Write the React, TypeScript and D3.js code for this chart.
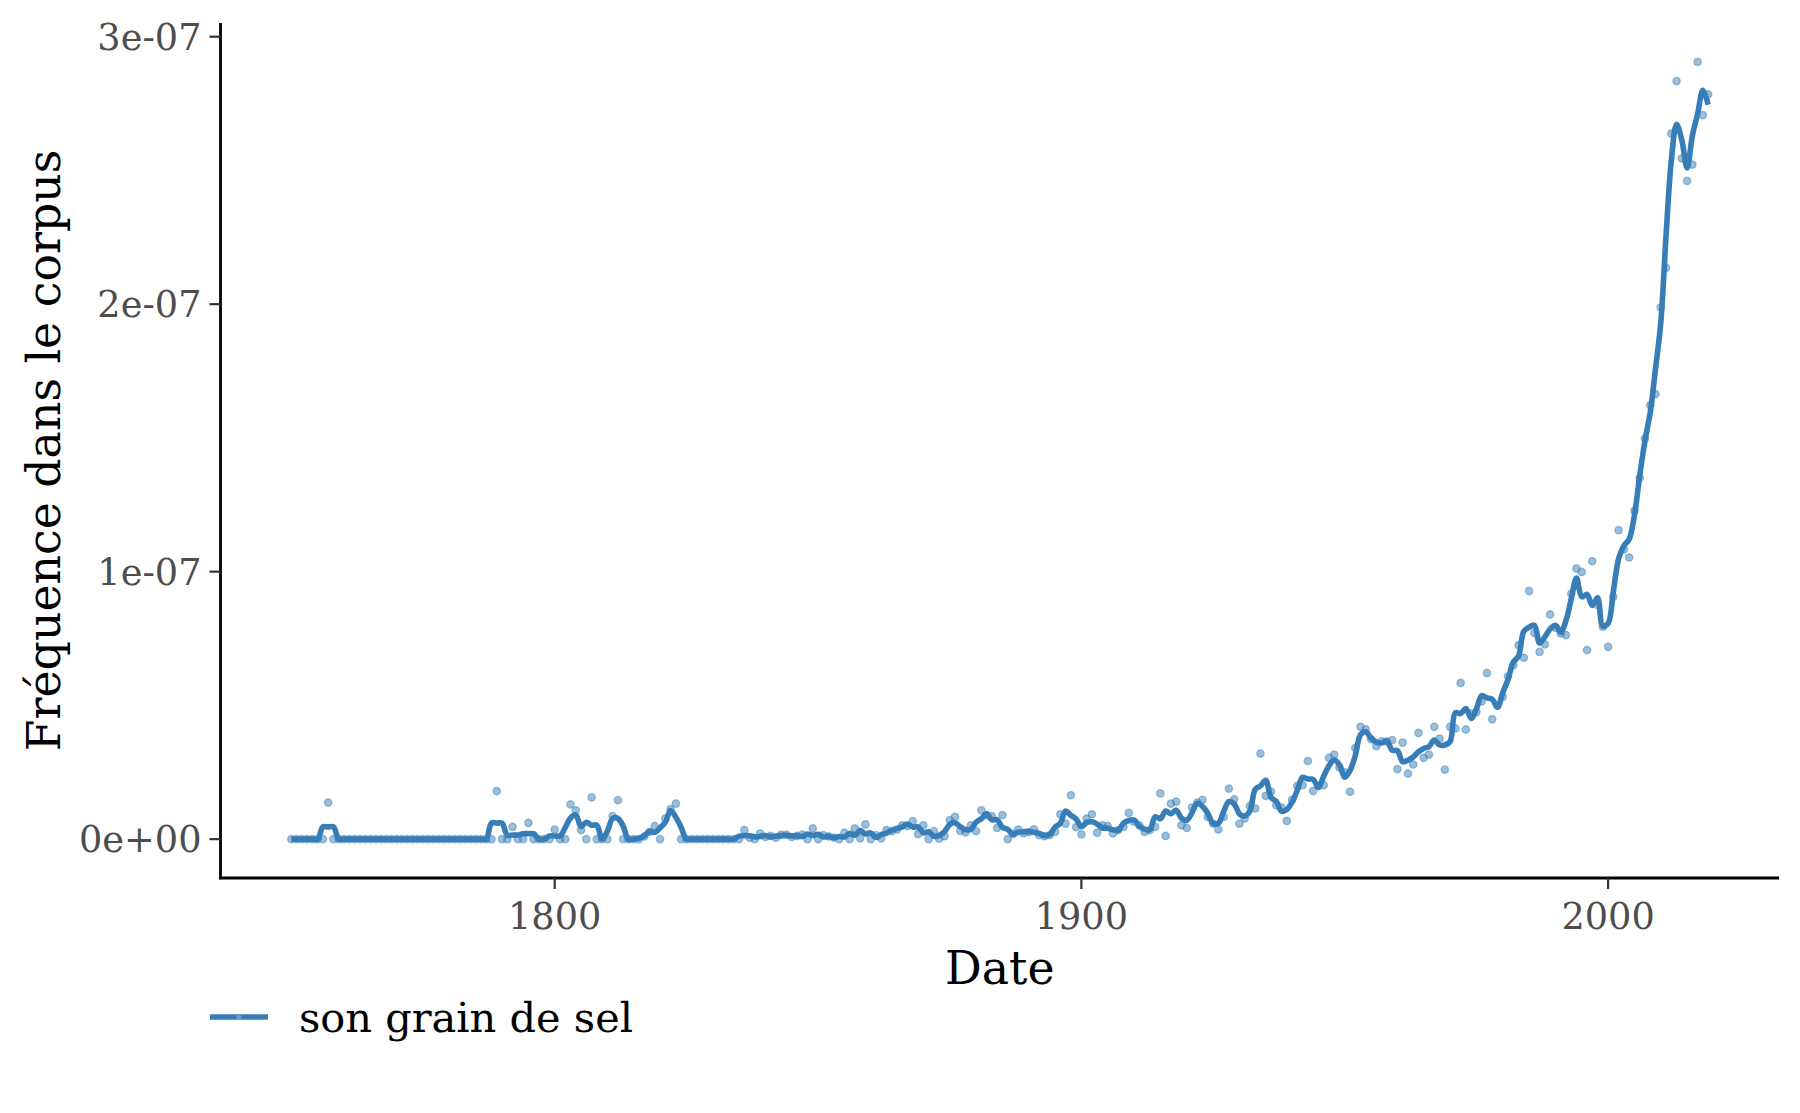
import React from "react";
import * as d3 from "d3";

// Frequency of "son grain de sel" per year, in units of 1e-10
const FIRST_YEAR = 1750;
const FREQ: number[] = [
  // 1750-1759
  0, 0, 0, 0, 0, 0, 0, 137, 0, 0,
  // 1760-1769
  0, 0, 0, 0, 0, 0, 0, 0, 0, 0,
  // 1770-1779
  0, 0, 0, 0, 0, 0, 0, 0, 0, 0,
  // 1780-1789
  0, 0, 0, 0, 0, 0, 0, 0, 0, 180,
  // 1790-1799
  0, 0, 46, 0, 0, 61, 0, 0, 0, 0,
  // 1800-1809
  36, 0, 0, 130, 108, 34, 0, 156, 0, 0,
  // 1810-1819
  0, 86, 146, 0, 0, 0, 0, 10, 27, 49,
  // 1820-1829
  0, 77, 112, 133, 0, 0, 0, 0, 0, 0,
  // 1830-1839
  0, 0, 0, 0, 0, 0, 34, 5, 0, 21,
  // 1840-1849
  8, 12, 5, 17, 17, 8, 12, 17, 0, 40,
  // 1850-1859
  0, 15, 10, 6, 0, 24, 0, 40, 3, 55,
  // 1860-1869
  0, 15, 3, 34, 30, 36, 52, 49, 67, 19,
  // 1870-1879
  52, 0, 30, 2, 11, 71, 83, 31, 26, 52,
  // 1880-1889
  30, 108, 90, 86, 42, 90, 0, 19, 36, 22,
  // 1890-1899
  26, 37, 15, 11, 15, 27, 93, 58, 164, 45,
  // 1900-1909
  18, 77, 93, 24, 52, 49, 21, 34, 46, 98,
  // 1910-1919
  65, 52, 27, 34, 46, 171, 12, 133, 140, 52,
  // 1920-1929
  42, 118, 137, 147, 83, 58, 36, 83, 189, 149,
  // 1930-1939
  58, 77, 124, 115, 320, 162, 178, 127, 118, 68,
  // 1940-1949
  147, 199, 202, 292, 180, 199, 202, 304, 316, 268,
  // 1950-1959
  250, 177, 341, 420, 410, 374, 348, 366, 365, 370,
  // 1960-1969
  262, 361, 245, 279, 397, 304, 316, 420, 376, 260,
  // 1970-1979
  420, 414, 584, 410, 470, 475, 515, 621, 448, 500,
  // 1980-1989
  532, 609, 650, 725, 678, 928, 771, 700, 728, 840,
  // 1990-1999
  790, 769, 763, 918, 1012, 999, 707, 1039, 875, 794,
  // 2000-2009
  719, 906, 1155, 1083, 1053, 1227, 1350, 1498, 1622, 1664,
  // 2010-2019
  1988, 2136, 2638, 2834, 2545, 2461, 2522, 2906, 2707, 2785,
];

const X_TICKS = [1800, 1900, 2000];
const Y_TICKS = [0, 1000, 2000, 3000];
const Y_TICK_LABELS = ["0e+00", "1e-07", "2e-07", "3e-07"];
const SERIES_NAME = "son grain de sel";
const X_TITLE = "Date";
const Y_TITLE = "Fréquence dans le corpus";

const COLOR = "#377EB8";
const FONT = "'DejaVu Serif', serif";

export default function App() {
  const W = 1800;
  const H = 1113;
  const panel = { left: 220.5, right: 1779, top: 23, bottom: 878 };

  const data = FREQ.map((v, i) => ({ year: FIRST_YEAR + i, v }));
  const [x0, x1] = d3.extent(data, (d) => d.year) as [number, number];
  const vMax = d3.max(data, (d) => d.v) as number;
  const xPad = (x1 - x0) * 0.05;
  const yPad = vMax * 0.05;

  const x = d3.scaleLinear().domain([x0 - xPad, x1 + xPad]).range([panel.left, panel.right]);
  const y = d3.scaleLinear().domain([-yPad, vMax + yPad]).range([panel.bottom, panel.top]);

  // centred 3-year rolling mean (partial windows at the ends)
  const smooth = data.map((d, i) => {
    const win = data.slice(Math.max(0, i - 1), Math.min(data.length, i + 2));
    return { year: d.year, v: d3.mean(win, (w) => w.v) as number };
  });

  const line = d3
    .line<{ year: number; v: number }>()
    .x((d) => x(d.year))
    .y((d) => y(d.v))
    .curve(d3.curveCatmullRom.alpha(0.5));

  const tickLen = 11;
  const lineW = 5.6;

  return (
    <svg
      width={W}
      height={H}
      viewBox={`0 0 ${W} ${H}`}
      style={{ position: "absolute", left: 0, top: 0, background: "#fff" }}
    >
      <rect x={0} y={0} width={W} height={H} fill="#fff" />
      {/* points */}
      <g>
        {data.map((d) => (
          <circle
            key={d.year}
            cx={x(d.year)}
            cy={y(d.v)}
            r={3.7}
            fill={COLOR}
            fillOpacity={0.5}
            stroke={COLOR}
            strokeOpacity={0.45}
            strokeWidth={1.3}
          />
        ))}
      </g>
      {/* smoothed line */}
      <path d={line(smooth) || ""} fill="none" stroke={COLOR} strokeWidth={lineW} strokeLinejoin="round" />

      {/* axes */}
      <line x1={panel.left} x2={panel.left} y1={panel.top} y2={panel.bottom + 1.3} stroke="#000" strokeWidth={2.8} />
      <line x1={panel.left - 1.3} x2={panel.right} y1={panel.bottom} y2={panel.bottom} stroke="#000" strokeWidth={2.8} />

      {Y_TICKS.map((t, i) => (
        <g key={t}>
          <line x1={panel.left - tickLen} x2={panel.left} y1={y(t)} y2={y(t)} stroke="#333" strokeWidth={2.2} />
          <text
            x={panel.left - tickLen - 8}
            y={y(t)}
            dy="0.36em"
            textAnchor="end"
            fontFamily={FONT}
            fontSize={36.7}
            fill="#4D4D4D"
          >
            {Y_TICK_LABELS[i]}
          </text>
        </g>
      ))}
      {X_TICKS.map((t) => (
        <g key={t}>
          <line x1={x(t)} x2={x(t)} y1={panel.bottom} y2={panel.bottom + tickLen} stroke="#333" strokeWidth={2.2} />
          <text x={x(t)} y={929} textAnchor="middle" fontFamily={FONT} fontSize={36.7} fill="#4D4D4D">
            {t}
          </text>
        </g>
      ))}

      {/* axis titles */}
      <text
        x={(panel.left + panel.right) / 2}
        y={984}
        textAnchor="middle"
        fontFamily={FONT}
        fontSize={45.8}
        fill="#000"
      >
        {X_TITLE}
      </text>
      <text
        transform={`translate(60, ${(panel.top + panel.bottom) / 2}) rotate(-90)`}
        textAnchor="middle"
        fontFamily={FONT}
        fontSize={45.8}
        fill="#000"
      >
        {Y_TITLE}
      </text>

      {/* legend */}
      <g>
        <line x1={210} x2={268} y1={1017} y2={1017} stroke={COLOR} strokeWidth={lineW} />
        <circle cx={239} cy={1017} r={2.6} fill="#6fa3d0" fillOpacity={0.8} />
        <text x={299} y={1032} fontFamily={FONT} fontSize={41.5} fill="#000">
          {SERIES_NAME}
        </text>
      </g>
    </svg>
  );
}
